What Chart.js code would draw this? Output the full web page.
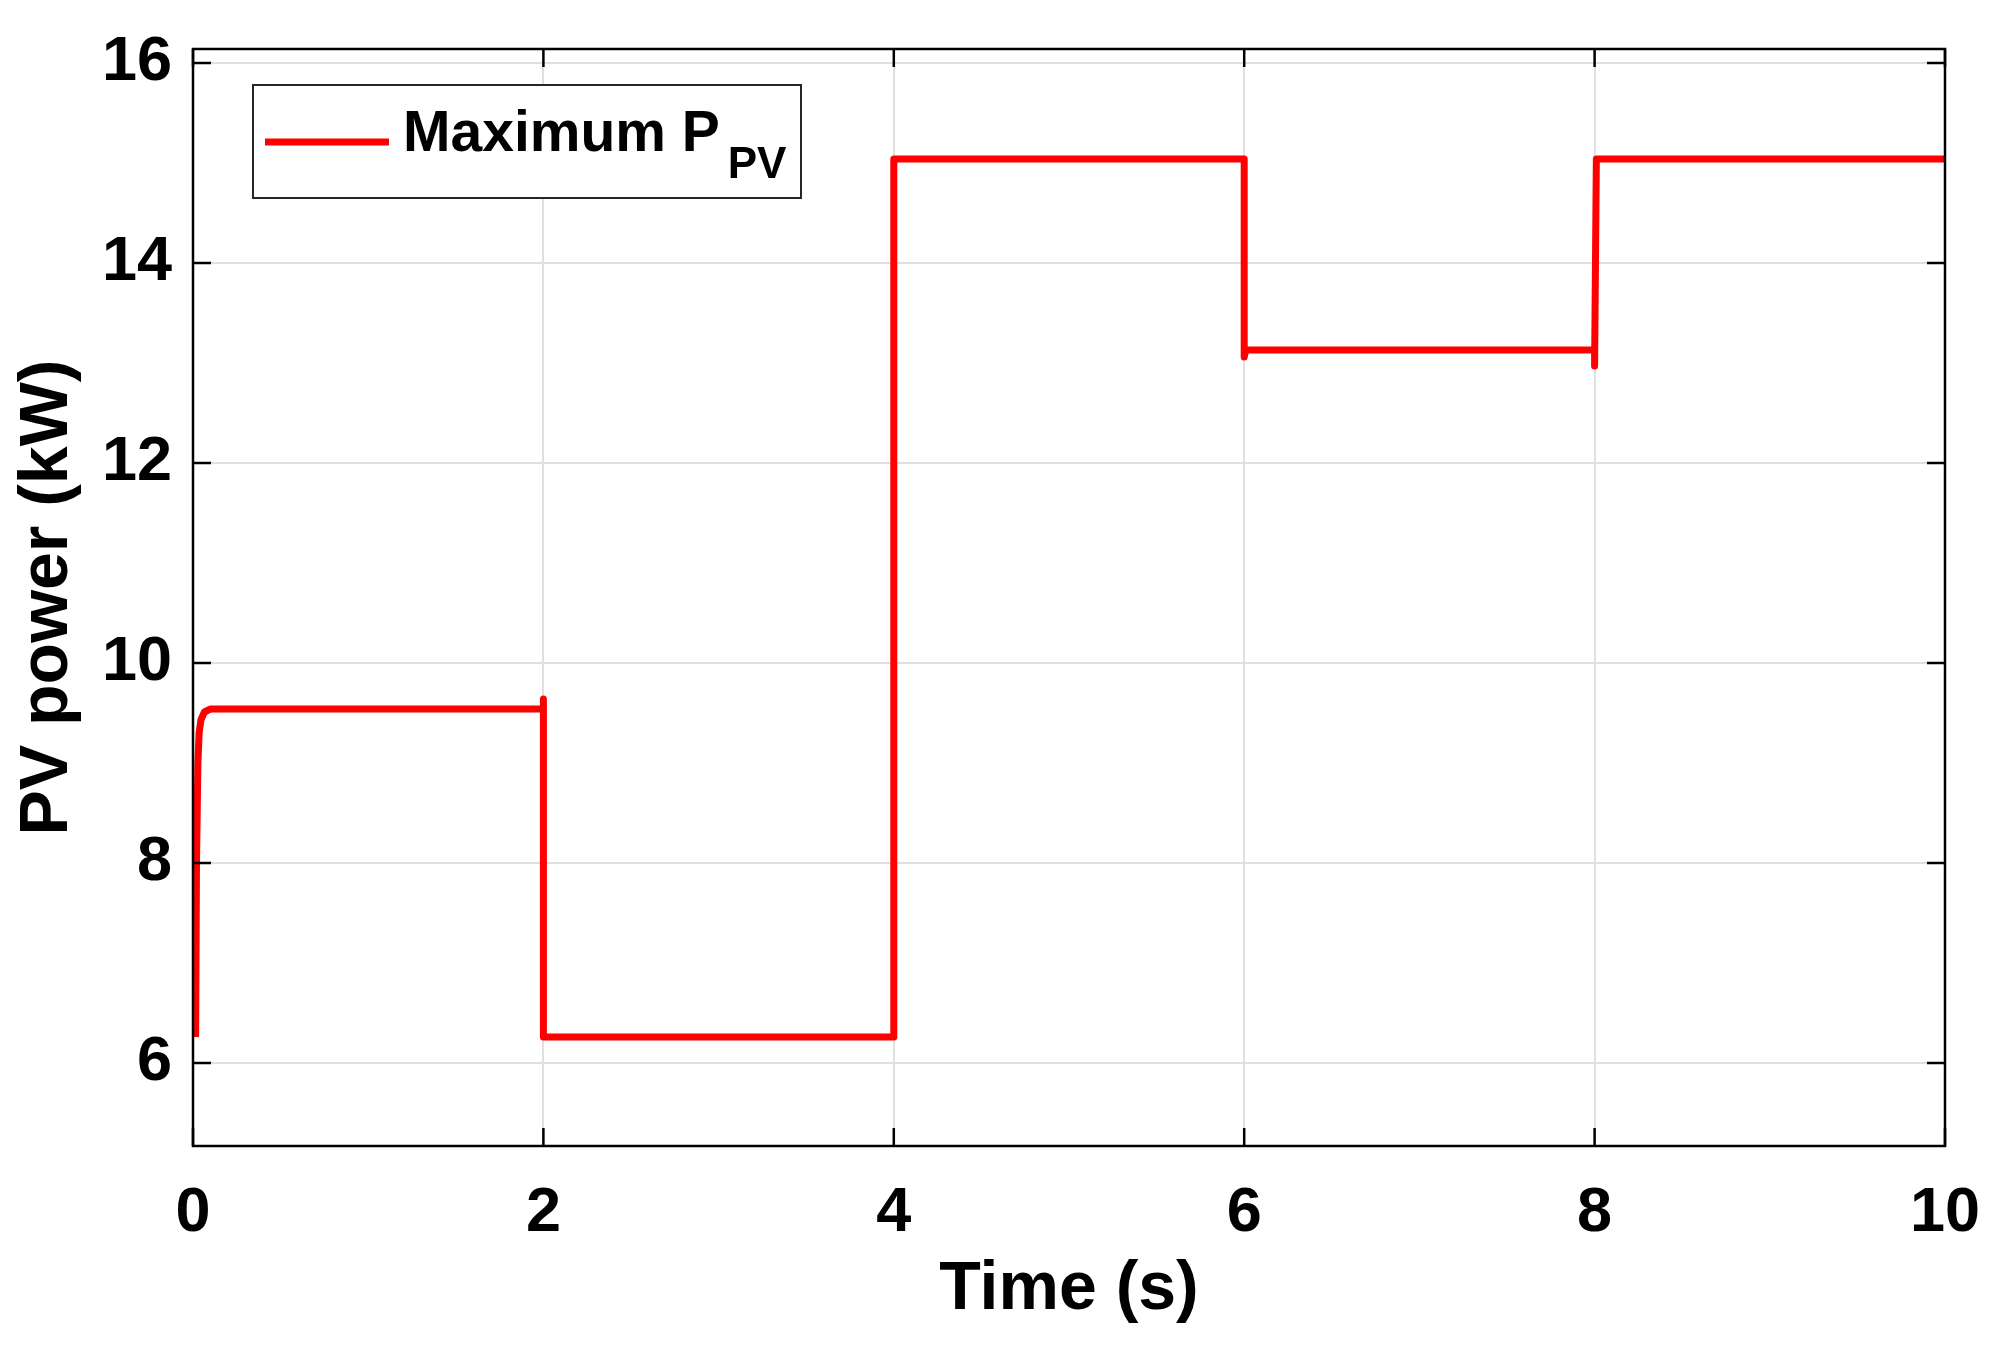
<!DOCTYPE html>
<html>
<head>
<meta charset="utf-8">
<script src="https://cdn.jsdelivr.net/npm/chart.js@4.4.1/dist/chart.umd.min.js"></script>
<style>
  html, body { margin: 0; padding: 0; background: #ffffff; }
  canvas { display: block; }
</style>
</head>
<body>
<canvas id="chart-pv-power" width="1995" height="1353" style="width:1995px;height:1353px"></canvas>
<script>
// Values
const timeS = [0.015, 0.02, 0.028, 0.035, 0.045, 0.065, 0.1, 2.0, 2.0, 2.0, 4.0, 4.0, 6.0, 6.0, 6.01, 8.0, 8.0, 8.01, 10.0];
const powerKW = [6.26, 8.0, 9.0, 9.3, 9.43, 9.51, 9.54, 9.54, 9.64, 6.26, 6.26, 15.04, 15.04, 13.06, 13.13, 13.13, 12.97, 15.04, 15.04];
const xTickValues = [0, 2, 4, 6, 8, 10];
const yTickValues = [6, 8, 10, 12, 14, 16];
const seriesLabel = 'Maximum P';
const seriesSub = 'PV';

const FONT = 'Liberation Sans, Arial, Helvetica, sans-serif';
const LINE_RED = '#ff0000';
const GRID = '#e0e0e0';
const TICK_LEN = 18;

// MATLAB-style box, inward ticks on all four sides and the legend
const framePlugin = {
  id: 'matlabFrame',
  afterDraw(chart) {
    const { ctx, chartArea: a, scales } = chart;
    const xs = scales.x, ys = scales.y;
    ctx.save();
    ctx.strokeStyle = '#000000';
    ctx.lineWidth = 2.5;
    ctx.beginPath();
    xTickValues.forEach((v) => {
      const px = xs.getPixelForValue(v);
      ctx.moveTo(px, a.bottom); ctx.lineTo(px, a.bottom - TICK_LEN);
      ctx.moveTo(px, a.top); ctx.lineTo(px, a.top + TICK_LEN);
    });
    yTickValues.forEach((v) => {
      const py = ys.getPixelForValue(v);
      ctx.moveTo(a.left, py); ctx.lineTo(a.left + TICK_LEN, py);
      ctx.moveTo(a.right, py); ctx.lineTo(a.right - TICK_LEN, py);
    });
    ctx.stroke();
    ctx.strokeRect(a.left, a.top, a.right - a.left, a.bottom - a.top);

    // legend
    const lx = a.left + 60, ly = a.top + 36, lw = 548, lh = 113;
    ctx.fillStyle = '#ffffff';
    ctx.fillRect(lx, ly, lw, lh);
    ctx.strokeStyle = '#262626';
    ctx.lineWidth = 2;
    ctx.strokeRect(lx, ly, lw, lh);
    ctx.strokeStyle = LINE_RED;
    ctx.lineWidth = 7;
    ctx.beginPath();
    ctx.moveTo(lx + 12, ly + 57);
    ctx.lineTo(lx + 136, ly + 57);
    ctx.stroke();
    ctx.fillStyle = '#000000';
    ctx.textBaseline = 'alphabetic';
    ctx.textAlign = 'left';
    ctx.font = `bold 57px ${FONT}`;
    ctx.fillText(seriesLabel, lx + 150, ly + 66);
    const w = ctx.measureText(seriesLabel).width;
    ctx.font = `bold 44px ${FONT}`;
    ctx.fillText(seriesSub, lx + 150 + w + 8, ly + 93);
    ctx.restore();
  },
};

const points = timeS.map((t, i) => ({ x: t, y: powerKW[i] }));

new Chart(document.getElementById('chart-pv-power'), {
  type: 'scatter',
  data: {
    datasets: [{
      label: seriesLabel,
      data: points,
      showLine: true,
      borderColor: LINE_RED,
      backgroundColor: LINE_RED,
      borderWidth: 7,
      borderJoinStyle: 'round',
      pointRadius: 0,
      tension: 0,
    }],
  },
  options: {
    responsive: false,
    animation: false,
    devicePixelRatio: 1,
    layout: { padding: { top: 49, right: 50, bottom: 0, left: 0 } },
    plugins: { legend: { display: false }, tooltip: { enabled: false } },
    scales: {
      x: {
        type: 'linear',
        min: 0,
        max: 10,
        afterBuildTicks: (s) => { s.ticks = xTickValues.map((v) => ({ value: v })); },
        afterFit: (s) => { s.height = 207; s.paddingLeft = 0; s.paddingRight = 0; },
        grid: { color: GRID, lineWidth: 2, drawTicks: false },
        border: { display: false },
        ticks: {
          color: '#000000',
          font: { family: FONT, size: 63, weight: 'bold' },
          padding: 30,
          maxRotation: 0,
        },
        title: {
          display: true,
          text: 'Time (s)',
          color: '#000000',
          font: { family: FONT, size: 68, weight: 'bold', lineHeight: 1 },
          padding: { top: 0, bottom: 29 },
        },
      },
      y: {
        type: 'linear',
        min: 5.17,
        max: 16.14,
        afterBuildTicks: (s) => { s.ticks = yTickValues.map((v) => ({ value: v })); },
        afterFit: (s) => { s.width = 193; s.paddingTop = 0; s.paddingBottom = 0; },
        grid: { color: GRID, lineWidth: 2, drawTicks: false },
        border: { display: false },
        ticks: {
          color: '#000000',
          font: { family: FONT, size: 63, weight: 'bold' },
          padding: 21,
        },
        title: {
          display: true,
          text: 'PV power (kW)',
          color: '#000000',
          font: { family: FONT, size: 68, weight: 'bold', lineHeight: 1 },
          padding: { top: 14, bottom: 0 },
        },
      },
    },
  },
  plugins: [framePlugin],
});
</script>
</body>
</html>
